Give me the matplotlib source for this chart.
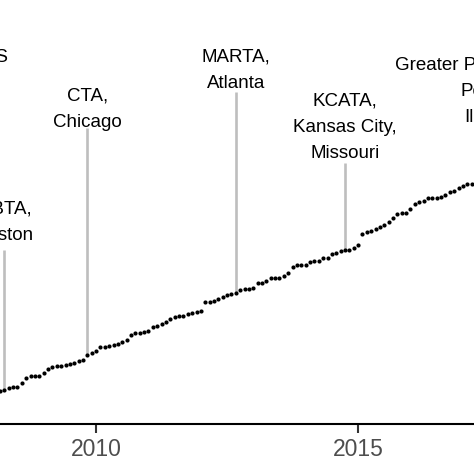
import numpy as np
import matplotlib
matplotlib.use("Agg")
import matplotlib.pyplot as plt

plt.rcParams["font.family"] = ["Liberation Sans", "DejaVu Sans"]

# monthly values, March 2008 .. March 2017 (relative units)
start_year = 2008
start_month = 3
values = [
    33, 34, 35.7, 36.7, 37.3, 41.3, 46.3, 48.3, 48.3, 48.3,
    51.3, 54.7, 57.3, 58, 58, 58.7, 59.7, 61.3, 63, 64,
    68.7, 70.7, 72.7, 77.3, 77.3, 78, 79, 80, 82.3, 84,
    89, 90.7, 91.3, 92.3, 93, 97.3, 98, 100, 102.3, 104.7,
    107.3, 108, 108, 109.7, 111.3, 111.7, 113, 122.3, 122.3, 123.3,
    124.7, 126.7, 128.7, 129.7, 131, 133.7, 134.7, 134.7, 135.7, 141.3,
    141.3, 143, 146.3, 146.3, 146.3, 148, 150.7, 157.3, 159, 159,
    159, 162.3, 163, 163.3, 165.7, 165.7, 169.7, 171.3, 173, 174,
    174, 176.3, 178.7, 190, 191.7, 193.3, 195, 196.7, 199, 201.7,
    205.7, 209.7, 210.7, 211.3, 215, 219.7, 221.7, 223, 225.7, 226.3,
    226.3, 226.7, 229, 231.7, 233.3, 235.7, 238, 239.7, 239.7,
]

# agency launch events: label text and month index into values
event_labels = ["MBTA,\nBoston", "CTA,\nChicago", "MARTA,\nAtlanta",
                "KCATA,\nKansas City,\nMissouri"]
event_index = [1, 20, 54, 79]

# labels whose events fall outside the shown range
outside_labels = ["GTFS", "Greater Peoria Transit,\nPeoria,\nIllinois"]
outside_dates = [2007.85, 2017.52]

dates = start_year + (start_month - 1 + np.arange(len(values))) / 12.0
values = np.array(values)

fig = plt.figure(figsize=(4.74, 4.74), dpi=100)
ax = fig.add_axes([0, 50 / 474, 1, 424 / 474])

label_centre = [201.5, 314.5, 353.5, 297]
seg_top = [174, 296, 332, 261]
for lab, i, yc, yt in zip(event_labels, event_index, label_centre, seg_top):
    ax.plot([dates[i], dates[i]], [values[i], yt], color="#bebebe", lw=1.9,
            zorder=1, solid_capstyle="butt")
    ax.text(dates[i], yc, lab, ha="center", va="center", fontsize=13.5,
            linespacing=1.7, multialignment="center", clip_on=False)

for lab, d, yc in zip(outside_labels, outside_dates, [367, 333]):
    ax.text(d, yc, lab, ha="center", va="center", fontsize=13.5,
            linespacing=1.7, multialignment="center", clip_on=False)

ax.plot(dates, values, "o", color="black", ms=3.0, mew=0, zorder=3)

ax.set_xlim(2008 + 2 / 12, 2008 + 2 / 12 + 474 / 52.4)
ax.set_ylim(0, 424)

for s in ["top", "right", "left"]:
    ax.spines[s].set_visible(False)
ax.spines["bottom"].set_linewidth(1.5)
ax.spines["bottom"].set_color("black")
ax.set_yticks([])
ax.set_xticks([2010, 2015])
ax.set_xticklabels(["2010", "2015"])
ax.tick_params(axis="x", length=6.3, width=1.5, color="#333333",
               labelsize=16.5, labelcolor="#4d4d4d", pad=4)
ax.patch.set_visible(False)

fig.savefig("out.png", dpi=100)
